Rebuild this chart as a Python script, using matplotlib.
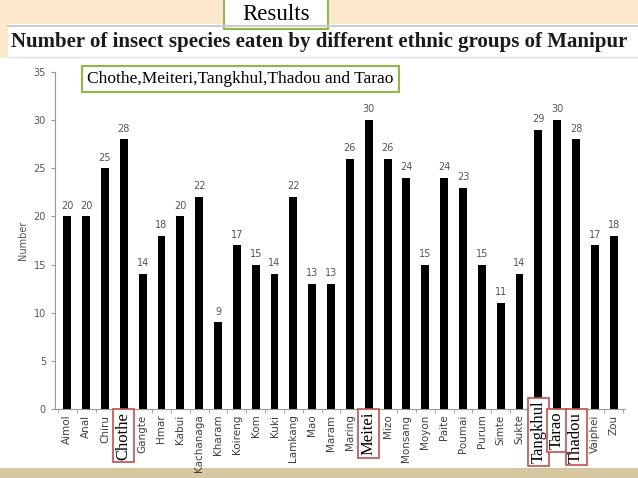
import numpy as np
import matplotlib.pyplot as plt
import matplotlib.transforms as mtransforms
from matplotlib.patches import Rectangle

groups = ["Aimol", "Anal", "Chiru", "Chothe", "Gangte", "Hmar", "Kabui", "Kachanaga",
          "Kharam", "Koireng", "Kom", "Kuki", "Lamkang", "Mao", "Maram", "Maring",
          "Meitei", "Mizo", "Monsang", "Moyon", "Paite", "Poumai", "Purum", "Simte",
          "Sukte", "Tangkhul", "Tarao", "Thadou", "Vaiphei", "Zou"]
species = [20, 20, 25, 28, 14, 18, 20, 22, 9, 17, 15, 14, 22, 13, 13, 26,
           30, 26, 24, 15, 24, 23, 15, 11, 14, 29, 30, 28, 17, 18]
highlight = ["Chothe", "Meitei", "Tangkhul", "Tarao", "Thadou"]
yticks = [0, 5, 10, 15, 20, 25, 30, 35]

serif = ["Liberation Serif", "DejaVu Serif"]
green = "#8cb84a"
red = "#c0504d"
grey = "#555555"

fig = plt.figure(figsize=(6.38, 4.78), dpi=100)
fig.patch.set_facecolor("white")

# slide decoration: beige bands
fig.add_artist(Rectangle((0, 1 - 24 / 478), 1, 24 / 478, transform=fig.transFigure,
                         facecolor="#fce9cc", edgecolor="none", zorder=0))
fig.add_artist(Rectangle((0, 1 - 58 / 478), 8 / 638, 34 / 478, transform=fig.transFigure,
                         facecolor="#fce9cc", edgecolor="none", zorder=0))
fig.add_artist(Rectangle((0, 0), 1, 10 / 478, transform=fig.transFigure,
                         facecolor="#d6c7a1", edgecolor="none", zorder=0))
fig.add_artist(plt.Line2D([8 / 638, 1], [1 - 26 / 478] * 2, transform=fig.transFigure,
                          color="#cccccc", lw=1.5))
fig.add_artist(plt.Line2D([8 / 638, 1], [1 - 57 / 478] * 2, transform=fig.transFigure,
                          color="#dddddd", lw=1))

# "Results" box (drawn as a rectangle so its width matches the slide)
fig.add_artist(Rectangle((224 / 638, 1 - 29 / 478), 104 / 638, 32 / 478,
                         transform=fig.transFigure, facecolor="white",
                         edgecolor=green, lw=1.5, zorder=1))
fig.text(276 / 638, 1 - 15 / 478, "Results", family=serif, fontsize=16.5,
         ha="center", va="center", zorder=2)
fig.text(319 / 638, 1 - 42 / 478,
         "Number of insect species eaten by different ethnic groups of Manipur",
         family=serif, fontsize=15, fontweight="bold", ha="center", va="center",
         color="#1a1a1a")

ax = fig.add_axes([55 / 638, 1 - 409 / 478, 570 / 638, 337 / 478])
x = np.arange(len(groups))
ax.bar(x, species, width=0.42, color="black")
for xi, v in zip(x, species):
    ax.text(xi, v + 0.6, str(v), ha="center", va="bottom", fontsize=7, color=grey)

ax.set_ylim(0, 35)
ax.set_xlim(-0.65, len(groups) - 0.4)
ax.set_yticks(yticks)
ax.tick_params(axis="y", labelsize=7, labelcolor=grey, color="#999999", length=3)
ax.set_xticks(x)
ax.set_xticklabels([g if g not in highlight else "" for g in groups],
                   rotation=90, fontsize=7.5, color="#404040")
ax.set_xticks(np.arange(-0.5, len(groups), 1), minor=True)
ax.tick_params(axis="x", which="major", length=0, pad=4)
ax.tick_params(axis="x", which="minor", length=3, color="#999999")

# highlighted group names in boxes
trans = mtransforms.blended_transform_factory(ax.transData, ax.transAxes)
for g in highlight:
    i = groups.index(g)
    ytop = 0.025 if g == "Tangkhul" else -0.008
    ax.text(i, ytop, g, transform=trans, rotation=90, ha="center", va="top",
            family=serif, fontsize=12, color="black", clip_on=False, zorder=5,
            bbox=dict(boxstyle="square,pad=0.15", facecolor="white", edgecolor=red, lw=1.2))

for s in ["top", "right"]:
    ax.spines[s].set_visible(False)
for s in ["left", "bottom"]:
    ax.spines[s].set_color("#999999")
ax.set_ylabel("Number", fontsize=7, color=grey)

ax.text(0.056, 0.98, "Chothe,Meiteri,Tangkhul,Thadou and Tarao", transform=ax.transAxes,
        family=serif, fontsize=12.5, ha="left", va="center",
        bbox=dict(boxstyle="square,pad=0.3", facecolor="white", edgecolor=green, lw=1.5))

fig.savefig("out.png", dpi=100)
